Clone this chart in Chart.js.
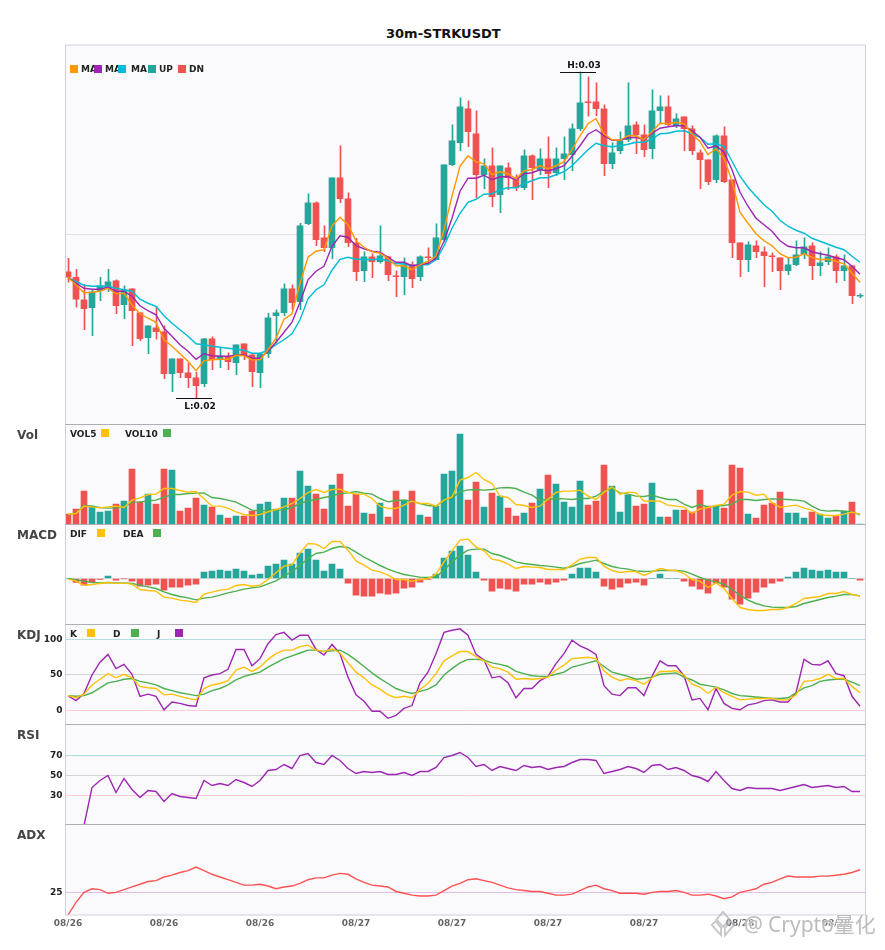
<!DOCTYPE html>
<html>
<head>
<meta charset="utf-8">
<title>30m-STRKUSDT</title>
<script src="https://cdn.jsdelivr.net/npm/chart.js@4/dist/chart.umd.js"></script>
<style>
  html, body { margin: 0; padding: 0; background: #fff; }
  #page { position: relative; width: 885px; height: 950px; overflow: hidden; font-family: "DejaVu Sans", sans-serif; }
  #page canvas { position: absolute; left: 0; }
  .txt { position: absolute; white-space: nowrap; font-weight: bold; }
  .swatch { position: absolute; width: 8px; height: 8px; }
  #mark { position: absolute; left: 708px; top: 908px; width: 177px; height: 32px; color: rgba(165,165,170,.75); text-shadow: 0 0 2px #fff, 0 0 2px #fff; font-family: "Noto Sans", "Noto Sans CJK SC", sans-serif; }
  #mark span { position: absolute; top: 0; line-height: 32px; font-size: 21px; white-space: nowrap; }
</style>
</head>
<body>
<div id="page">
  <div id="mark">
    <svg width="28" height="28" viewBox="0 0 30 30" style="position:absolute;left:1px;top:3px" fill="none" stroke="rgba(180,180,185,.75)" stroke-width="2">
      <polygon points="15,1 22,9 15,17 8,9"/><polygon points="7,11 13,18 13,26 3,15"/><polygon points="23,11 17,18 17,26 27,15"/>
    </svg>
    <span style="left:36px">@</span>
    <span style="left:60px">Crypto量化</span>
  </div>
</div>

<script>
// ─── data (prices are in units of 0.00001) ───────────
const open = [
  2426,2415,2370,2354,2388,2394,2408,2360,2392,2344,
  2294,2314,2306,2222,2252,2224,2214,2202,2292,2252,
  2256,2244,2282,2260,2224,2262,2338,2344,2392,2366,
  2522,2564,2494,2474,2614,2572,2484,2428,2456,2446,
  2456,2418,2416,2440,2416,2456,2450,2490,2640,2684,
  2752,2702,2620,2638,2580,2634,2614,2594,2658,2630,
  2652,2624,2652,2660,2712,2766,2766,2752,2642,2668,
  2690,2720,2700,2672,2748,2756,2718,2736,2712,2664,
  2650,2610,2698,2610,2484,2450,2478,2466,2458,2454,
  2428,2440,2460,2478,2438,2446,2456,2428,2438,2377];
const close = [
  2415,2371,2352,2386,2398,2406,2358,2390,2348,2292,
  2318,2306,2222,2252,2224,2214,2198,2292,2250,2258,
  2246,2280,2258,2226,2262,2334,2344,2392,2364,2518,
  2564,2490,2474,2614,2572,2484,2426,2456,2446,2458,
  2420,2416,2440,2412,2456,2454,2494,2640,2688,2756,
  2706,2620,2638,2576,2638,2614,2594,2658,2634,2652,
  2622,2652,2662,2712,2764,2764,2752,2642,2664,2688,
  2718,2700,2670,2748,2756,2720,2732,2712,2668,2650,
  2606,2698,2606,2484,2450,2480,2466,2458,2456,2428,
  2440,2460,2476,2438,2444,2456,2428,2438,2378,2379];
const high = [
  2453,2431,2400,2391,2415,2431,2410,2398,2392,2344,
  2318,2357,2318,2252,2252,2243,2225,2293,2296,2275,
  2264,2280,2282,2263,2263,2343,2350,2402,2400,2523,
  2582,2566,2518,2614,2678,2584,2493,2466,2462,2518,
  2457,2428,2454,2446,2458,2474,2522,2640,2720,2774,
  2768,2748,2652,2674,2638,2644,2620,2670,2660,2672,
  2696,2674,2696,2722,2826,2816,2804,2760,2684,2706,
  2804,2726,2720,2790,2778,2778,2742,2736,2718,2670,
  2650,2700,2716,2610,2484,2486,2488,2476,2464,2454,
  2454,2488,2494,2484,2466,2474,2460,2460,2438,2382];
const low = [
  2405,2355,2310,2298,2368,2386,2342,2332,2278,2288,
  2262,2291,2212,2186,2214,2194,2174,2196,2230,2234,
  2230,2220,2250,2196,2194,2254,2283,2338,2350,2350,
  2520,2478,2466,2452,2564,2476,2408,2406,2414,2443,
  2408,2376,2380,2394,2408,2440,2450,2486,2638,2668,
  2676,2574,2592,2556,2544,2590,2588,2590,2570,2620,
  2594,2618,2610,2628,2708,2737,2738,2618,2632,2662,
  2686,2662,2656,2652,2722,2718,2714,2668,2660,2592,
  2600,2604,2604,2454,2416,2426,2454,2396,2426,2390,
  2420,2438,2452,2410,2418,2440,2404,2408,2362,2374];
const maFast = [
  2415,2400,2384,2385,2387,2393,2382,2383,2359,2342,
  2333,2325,2290,2277,2262,2247,2228,2248,2250,2251,
  2251,2259,2258,2250,2250,2270,2293,2331,2342,2403,
  2455,2467,2470,2518,2535,2520,2488,2475,2466,2463,
  2453,2438,2438,2430,2440,2447,2457,2510,2577,2637,
  2658,2646,2642,2620,2626,2622,2612,2628,2630,2638,
  2632,2638,2646,2670,2698,2722,2732,2702,2690,2689,
  2698,2698,2690,2706,2723,2722,2725,2722,2702,2686,
  2660,2672,2653,2607,2545,2523,2502,2488,2478,2462,
  2454,2455,2462,2455,2450,2451,2447,2442,2423,2405];
const maMid = [
  2415,2403,2393,2391,2391,2395,2387,2387,2377,2358,
  2348,2340,2313,2297,2280,2267,2251,2262,2258,2257,
  2257,2259,2260,2253,2253,2267,2285,2305,2325,2365,
  2410,2427,2437,2477,2498,2495,2478,2472,2467,2465,
  2455,2445,2445,2438,2440,2443,2453,2487,2533,2587,
  2613,2613,2619,2610,2616,2616,2610,2622,2624,2630,
  2628,2632,2638,2657,2678,2701,2710,2698,2689,2689,
  2694,2695,2690,2703,2713,2716,2718,2718,2708,2695,
  2673,2678,2665,2630,2585,2557,2533,2520,2507,2488,
  2477,2474,2474,2466,2462,2459,2454,2450,2437,2421];
const maSlow = [
  2415,2406,2399,2397,2397,2397,2393,2390,2387,2371,
  2363,2357,2338,2323,2310,2297,2282,2280,2277,2275,
  2273,2271,2269,2263,2263,2269,2280,2290,2302,2330,
  2372,2390,2400,2429,2451,2455,2451,2451,2450,2452,
  2448,2442,2442,2438,2440,2440,2450,2477,2513,2543,
  2565,2571,2581,2582,2590,2594,2594,2602,2608,2614,
  2614,2620,2626,2638,2654,2670,2683,2678,2676,2678,
  2681,2685,2685,2691,2702,2703,2707,2708,2702,2695,
  2681,2682,2677,2647,2617,2595,2577,2560,2547,2529,
  2517,2509,2503,2493,2487,2481,2475,2470,2457,2445];
const volume = [
  31,46,100,55,37,40,61,70,166,67,
  91,61,166,163,40,49,79,58,52,28,
  19,25,25,40,61,67,46,79,79,160,
  115,91,46,118,151,55,91,34,31,64,
  22,100,73,100,28,22,55,151,160,271,
  73,127,52,94,85,49,25,34,64,106,
  148,121,67,52,130,58,70,178,115,37,
  88,55,61,124,22,22,43,43,37,103,
  55,55,49,178,169,31,19,58,64,97,
  34,34,19,37,31,19,25,40,67,1];
const vol5 = [
  31,33,55,53,50,53,55,51,73,80,
  90,91,108,108,102,97,99,77,55,55,
  49,38,30,27,30,38,45,53,63,78,
  96,105,96,105,106,96,91,91,78,55,
  48,48,58,70,63,63,55,73,83,133,
  141,156,135,123,85,81,60,57,51,55,
  76,96,100,100,103,85,75,97,113,91,
  97,95,70,71,70,58,55,52,33,47,
  51,57,61,88,99,97,88,91,65,52,
  55,58,49,43,30,27,27,31,37,31];
const vol10 = [
  29,35,57,55,51,49,50,53,67,68,
  71,73,82,90,90,93,94,95,81,78,
  73,67,55,43,41,43,43,44,51,63,
  71,75,81,85,93,95,99,94,91,78,
  68,72,73,70,63,57,55,73,81,98,
  104,105,103,105,110,111,108,97,88,73,
  75,78,77,75,78,78,85,100,108,95,
  91,85,84,88,81,75,75,61,51,60,
  53,55,57,61,75,75,72,75,77,76,
  75,73,70,55,43,40,42,40,38,29];
const dif = [
  -2,-8,-20,-18,-15,-12,-14,-14,-17,-33,
  -36,-38,-56,-59,-65,-68,-72,-47,-41,-35,
  -32,-21,-18,-23,-20,-3,17,37,41,77,
  105,103,90,111,111,85,53,40,25,20,
  10,-3,-3,-8,-3,0,13,50,83,115,
  118,95,83,58,54,43,30,36,34,33,
  27,27,27,41,58,63,63,37,24,18,
  21,21,9,20,30,25,24,15,-3,-8,
  -27,-13,-30,-60,-87,-93,-96,-96,-93,-93,
  -87,-75,-60,-57,-54,-45,-45,-39,-48,-53];
const dea = [
  0,-4,-8,-12,-13,-12,-13,-13,-15,-20,
  -25,-30,-40,-48,-54,-58,-64,-59,-56,-50,
  -43,-38,-32,-28,-25,-16,-7,7,21,39,
  60,75,79,90,96,93,79,64,52,39,
  28,19,12,8,4,3,5,25,50,70,
  85,88,88,75,69,60,50,45,42,39,
  37,34,31,36,45,50,55,45,36,31,
  28,23,21,22,24,24,24,22,13,3,
  -5,-10,-17,-33,-50,-65,-75,-82,-86,-87,
  -87,-84,-75,-69,-63,-57,-53,-48,-48,-52];
const macdHist = [
  0,-12,-20,-12,-3,7,-5,-1,-8,-23,
  -20,-17,-35,-26,-26,-20,-17,19,22,25,
  22,28,22,10,13,37,43,55,43,76,
  88,55,22,43,28,-14,-50,-53,-53,-44,
  -47,-44,-29,-26,-11,-3,13,61,82,97,
  70,19,-5,-38,-29,-32,-38,-17,-17,-11,
  -17,-11,-5,13,31,31,19,-23,-32,-26,
  -14,-11,-20,0,13,0,0,-8,-23,-32,
  -44,-14,-26,-62,-77,-59,-41,-26,-14,-8,
  4,19,31,25,22,25,19,19,0,-5];
const kLine = [
  21,18,23,36,44,52,46,51,46,34,
  32,31,22,23,20,17,15,31,36,38,
  42,57,61,55,61,72,80,85,85,90,
  92,85,83,87,81,67,54,46,36,30,
  22,18,20,18,30,38,52,70,77,83,
  83,76,70,61,59,54,44,45,44,45,
  47,57,64,73,74,75,73,56,47,42,
  45,42,37,46,55,55,56,50,37,33,
  24,33,25,20,15,16,17,17,17,15,
  15,22,41,42,45,51,45,45,34,25];
const dLine = [
  21,20,21,25,32,39,41,44,45,41,
  39,36,31,28,25,23,21,23,28,31,
  36,43,48,51,54,61,67,73,77,81,
  85,85,83,84,85,79,71,62,53,45,
  38,31,27,24,27,30,36,50,59,67,
  72,72,71,67,65,62,55,52,49,48,
  48,51,54,61,64,67,70,62,54,51,
  48,44,45,47,51,52,53,47,43,37,
  35,33,29,24,21,20,19,18,17,17,
  18,25,32,35,41,43,44,44,40,35];
const jLine = [
  21,14,24,50,68,79,59,65,51,20,
  23,20,1,12,10,7,6,46,50,52,
  58,86,86,63,73,94,107,110,99,106,
  106,86,78,93,80,47,22,13,-1,-1,
  -11,-7,3,7,39,54,80,110,113,115,
  106,79,71,46,48,39,18,31,31,42,
  48,66,80,99,91,86,79,35,23,21,
  32,32,21,48,70,63,63,49,15,17,
  1,31,10,3,1,8,10,14,15,12,
  12,25,72,65,64,70,52,49,20,6];
const rsi = [
  null,null,0,38,45,50,33,47,36,28,
  35,34,24,32,29,28,27,45,40,42,
  40,46,43,39,45,55,56,61,57,70,
  72,63,61,70,65,57,52,54,53,54,
  51,51,53,50,54,54,58,68,70,73,
  68,59,61,55,59,57,55,60,58,59,
  56,58,59,63,66,66,65,52,54,56,
  59,57,53,60,61,56,58,55,50,48,
  44,54,45,37,35,38,37,37,37,35,
  37,39,41,38,39,40,38,39,34,34];
const adx = [
  0,14,25,29,28,24,25,28,31,34,
  37,38,42,44,47,49,53,49,45,42,
  39,36,33,33,34,32,29,31,32,35,
  39,41,41,44,46,45,40,36,33,32,
  31,26,24,22,21,21,22,27,32,35,
  39,40,38,36,33,30,28,27,26,26,
  24,22,22,23,27,31,33,29,27,24,
  24,24,23,25,26,26,27,25,22,22,
  23,21,18,20,25,27,29,34,36,40,
  43,42,42,42,43,43,44,45,47,50];

const xTickIndex  = [0, 12, 24, 36, 48, 60, 72, 84, 96];
const xTickLabels = ['08/26', '08/26', '08/26', '08/27', '08/27', '08/27', '08/27', '08/28', '08/28'];
const priceTicks = [2500];
const macdTicks  = [0];
const kdjTicks   = [0, 50, 100];
const rsiTicks   = [30, 50, 70];
const adxTicks   = [25];

// ─── colours ─────────────────────────────────────────
const UP = '#26a69a', DN = '#ef5350';
const ORANGE = '#ff9800', PURPLE = '#9c27b0', CYAN = '#00bcd4';
const YELLOW = '#ffc107', GREEN = '#4caf50', ADX_RED = '#ff5252';
const TEAL_GRID = '#b2dfdb', GRAY_GRID = '#d4d4d8', PINK_GRID = '#ffcdd2', LILAC_GRID = '#e1bee7';
const PLOT_BG = '#fafafd';

Chart.defaults.font.family = '"DejaVu Sans", sans-serif';
Chart.defaults.animation = false;

const page = document.getElementById('page');
const pts = arr => arr.map((y, x) => ({ x, y }));
const isUp = i => close[i] >= open[i];

const line = (data, color, width = 1.4) => ({
  type: 'line', data: pts(data), borderColor: color, borderWidth: width,
  pointRadius: 0, tension: 0, order: 0, xAxisID: 'x',
});

// panel background and frame
const panelFrame = {
  id: 'panelFrame',
  beforeDraw(chart) {
    const { ctx, chartArea: a } = chart;
    ctx.save();
    ctx.fillStyle = PLOT_BG;
    ctx.fillRect(a.left, a.top, a.right - a.left, a.bottom - a.top);
    ctx.restore();
  },
  afterDraw(chart) {
    const { ctx, chartArea: a } = chart;
    const hLine = (y, color) => {
      ctx.strokeStyle = color;
      ctx.beginPath(); ctx.moveTo(a.left, y); ctx.lineTo(a.right, y); ctx.stroke();
    };
    ctx.save();
    ctx.lineWidth = 1;
    ctx.strokeStyle = '#cfcfdc';
    ctx.beginPath();
    ctx.moveTo(a.left, a.top); ctx.lineTo(a.left, a.bottom);
    ctx.moveTo(a.right, a.top); ctx.lineTo(a.right, a.bottom);
    ctx.stroke();
    hLine(a.top, chart.canvas.id === 'main' ? '#cfcfdc' : '#adadb5');
    hLine(a.bottom, chart.canvas.id === 'adx' ? '#cfcfdc' : '#adadb5');
    ctx.restore();
  },
};

// H: / L: marks on the highest and lowest candle
const hiLoMarks = {
  id: 'hiLoMarks',
  afterDatasetsDraw(chart) {
    const { ctx, scales } = chart;
    const hi = Math.max(...high), lo = Math.min(...low);
    const mark = (idx, val, text, textOffset) => {
      const x = scales.x.getPixelForValue(idx);
      const y = Math.round(scales.y.getPixelForValue(val)) + 0.5;
      ctx.strokeStyle = '#111';
      ctx.beginPath(); ctx.moveTo(x - 20, y); ctx.lineTo(x + 16, y); ctx.stroke();
      ctx.fillText(text, x + 4, y + textOffset);
    };
    ctx.save();
    ctx.lineWidth = 1;
    ctx.font = 'bold 9px "DejaVu Sans"';
    ctx.fillStyle = '#111';
    ctx.textAlign = 'center';
    ctx.textBaseline = 'middle';
    mark(high.indexOf(hi), hi, 'H:' + (hi * 1e-5).toFixed(2), -7);
    mark(low.indexOf(lo), lo, 'L:' + (lo * 1e-5).toFixed(2), 8.5);
    ctx.restore();
  },
};

// tick labels must not push the plot area in
const noScalePadding = s => {
  s.paddingTop = s.paddingBottom = s.paddingLeft = s.paddingRight = 0;
};

function makePanel(id, top, bottom, datasets, opts) {
  const withAxis = !!opts.xAxis;
  const canvasTop = Math.floor(top) - 1;
  const extra = withAxis ? 20 : 1.5;
  const cv = document.createElement('canvas');
  cv.id = id;
  cv.width = 885;
  cv.height = Math.ceil(bottom + extra) - canvasTop;
  cv.style.top = canvasTop + 'px';
  page.appendChild(cv);

  const ticks = opts.ticks || [];
  return new Chart(cv, {
    type: 'bar',
    data: { datasets },
    plugins: [panelFrame].concat(opts.plugins || []),
    options: {
      responsive: false,
      devicePixelRatio: 1,
      layout: { padding: {
        left: 0, right: 19.5, top: top - canvasTop,
        bottom: withAxis ? 0 : cv.height - (bottom - canvasTop),
      } },
      plugins: { legend: { display: false }, tooltip: { enabled: false } },
      scales: {
        x: {
          type: 'linear', offset: false, min: -0.3125, max: 99.6875,
          display: withAxis,
          grid: { display: false, drawTicks: false },
          border: { display: false },
          afterBuildTicks: s => { s.ticks = xTickIndex.map(value => ({ value })); },
          afterFit: s => {
            if (withAxis) s.height = cv.height - (bottom - canvasTop);
            noScalePadding(s);
          },
          ticks: {
            autoSkip: false, maxRotation: 0, padding: 3, color: '#666',
            font: { size: 9, weight: 'bold' },
            callback: v => xTickLabels[xTickIndex.indexOf(v)],
          },
        },
        // wicks sit half a pixel right of the bodies
        xw: { type: 'linear', offset: false, min: -0.375, max: 99.625, display: false },
        y: {
          min: opts.min, max: opts.max,
          afterFit: s => { s.width = 65.5; noScalePadding(s); },
          afterBuildTicks: s => { s.ticks = ticks.map(value => ({ value })); },
          border: { display: false },
          grid: {
            display: ticks.length > 0, drawTicks: false,
            color: c => (opts.gridColor ? opts.gridColor(c.tick.value) : GRAY_GRID),
          },
          ticks: {
            display: !!opts.showLabels, autoSkip: false, padding: 3, color: '#222',
            font: { size: 9, weight: 'bold' }, callback: v => String(v),
          },
        },
      },
    },
  });
}

// ─── panels ──────────────────────────────────────────
const dirColors = high.map((_, i) => (isUp(i) ? UP : DN));

makePanel('main', 45, 424.5, [
  line(maFast, ORANGE), line(maMid, PURPLE), line(maSlow, CYAN),
  { data: open.map((o, x) => ({ x, y: [o, close[x]] })), backgroundColor: dirColors,
    barThickness: 6, order: 1, xAxisID: 'x', grouped: false },
  { data: low.map((l, x) => ({ x, y: [l, high[x]] })), backgroundColor: dirColors,
    barThickness: 1, order: 2, xAxisID: 'xw', grouped: false },
], { min: 2120.5, max: 2879.5, ticks: priceTicks, gridColor: () => '#e0e0e8', plugins: [hiLoMarks] });

makePanel('vol', 424.5, 524.5, [
  line(vol5, YELLOW), line(vol10, GREEN),
  { data: pts(volume), backgroundColor: dirColors, barThickness: 6, order: 1, xAxisID: 'x' },
], { min: 0, max: 300 });

makePanel('macd', 524.5, 624.5, [
  line(dif, YELLOW), line(dea, GREEN),
  { data: pts(macdHist), backgroundColor: macdHist.map(v => (v >= 0 ? UP : DN)),
    barThickness: 6, order: 1, xAxisID: 'x' },
], { min: -138, max: 162, ticks: macdTicks, gridColor: () => '#dcdce0' });

makePanel('kdj', 624.5, 724.5, [
  line(kLine, YELLOW), line(dLine, GREEN), line(jLine, PURPLE),
], { min: -19.7, max: 121.1, ticks: kdjTicks, showLabels: true,
     gridColor: v => (v === 100 ? TEAL_GRID : v === 0 ? PINK_GRID : GRAY_GRID) });

makePanel('rsi', 724.5, 824.5, [
  line(rsi, PURPLE),
], { min: 1, max: 101, ticks: rsiTicks, showLabels: true,
     gridColor: v => (v === 70 ? TEAL_GRID : v === 30 ? PINK_GRID : GRAY_GRID) });

makePanel('adx', 824.5, 915, [
  line(adx, ADX_RED),
], { min: 0, max: 100, ticks: adxTicks, showLabels: true, gridColor: () => LILAC_GRID, xAxis: true });

// ─── text and legends ────────────────────────────────
function addText(text, x, cy, size, color) {
  const el = document.createElement('div');
  el.className = 'txt';
  el.textContent = text;
  el.style.cssText = `left:${x}px;top:${cy - 8}px;line-height:16px;font-size:${size}px;color:${color}`;
  page.appendChild(el);
  return el;
}
function addSwatch(color, x, cy) {
  const el = document.createElement('div');
  el.className = 'swatch';
  el.style.cssText = `left:${x}px;top:${cy - 4}px;background:${color}`;
  page.appendChild(el);
}

const title = addText('30m-STRKUSDT', 0, 34, 13, '#111');
title.style.left = '386px';

addText('Vol', 17, 435, 12, '#444');
addText('MACD', 17, 535, 12, '#444');
addText('KDJ', 17, 635, 12, '#444');
addText('RSI', 17, 735, 12, '#444');
addText('ADX', 17, 835, 12, '#444');

const LEGEND = '#222';
[[81, 'MA'], [105, 'MA'], [131, 'MA'], [159, 'UP'], [189, 'DN']].forEach(([x, t]) => addText(t, x, 69, 9, LEGEND));
[[70, ORANGE], [94, PURPLE], [118, CYAN], [148, UP], [178, DN]].forEach(([x, c]) => addSwatch(c, x, 69));

addText('VOL5', 70, 433.5, 9, LEGEND);  addSwatch(YELLOW, 101, 433);
addText('VOL10', 125, 433.5, 9, LEGEND); addSwatch(GREEN, 163, 433);
addText('DIF', 70, 534, 9, LEGEND);     addSwatch(YELLOW, 97, 533);
addText('DEA', 123, 534, 9, LEGEND);    addSwatch(GREEN, 153, 533);
addText('K', 70, 633.5, 9, LEGEND);     addSwatch(YELLOW, 87, 633);
addText('D', 113, 633.5, 9, LEGEND);    addSwatch(GREEN, 131, 633);
addText('J', 157, 633.5, 9, LEGEND);    addSwatch(PURPLE, 175, 633);

// watermark stays on top
page.appendChild(document.getElementById('mark'));
</script>
</body>
</html>
